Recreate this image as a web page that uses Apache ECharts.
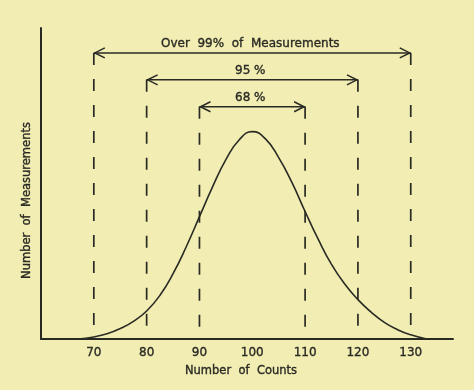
<!DOCTYPE html>
<html>
<head>
<meta charset="utf-8">
<script src="https://cdn.jsdelivr.net/npm/echarts@6/dist/echarts.min.js"></script>
<style>
html,body{margin:0;padding:0;background:#f1edb3;}
#chart{width:474px;height:390px;}
</style>
</head>
<body>
<div id="chart"></div>
<script>
const counts = [67, 70, 72.5, 75, 77.5, 80, 82.5, 85, 87.5, 90, 92.5, 95, 97.5, 100, 102.5, 105, 107.5, 110, 112.5, 115, 117.5, 120, 122.5, 125, 127.5, 130, 133];
const measurements = [0, 1, 2.5, 5, 8.5, 13.5, 21, 31.5, 44.5, 59, 73.5, 86.5, 96, 100, 96.5, 87.5, 75.5, 61.5, 48, 36, 26.5, 19, 13, 8, 4.5, 2, 0];
const tickLabels = [70, 80, 90, 100, 110, 120, 130];

// Range brackets
const bracketLow = [70, 80, 90];
const bracketHigh = [130, 120, 110];
const bracketLevel = [138, 125, 112];
const bracketText = ['Over  99%  of  Measurements', '95 %', '68 %'];

const ink = '#2a2a24';
const fontFamily = '"DejaVu Sans", "Noto Sans", sans-serif';

const chart = echarts.init(document.getElementById('chart'));

const curveData = counts.map((c, i) => [c, measurements[i]]);
const bracketData = bracketLow.map((lo, i) => [lo, bracketHigh[i], bracketLevel[i], i]);

const heavy = {textBorderColor: ink, textBorderWidth: 0.35};

chart.setOption({
  backgroundColor: '#f1edb3',
  animation: false,
  grid: {left: 41, right: 21, top: 28, bottom: 51},
  xAxis: {
    type: 'value', min: 60, max: 138, interval: 10,
    axisLine: {show: true, onZero: false, lineStyle: {color: ink, width: 2}},
    axisTick: {show: false},
    splitLine: {show: false},
    axisLabel: Object.assign({
      margin: 8, color: ink, fontSize: 12, fontFamily: fontFamily,
      formatter: v => tickLabels.indexOf(v) >= 0 ? String(v) : ''
    }, heavy),
    name: 'Number  of  Counts',
    nameLocation: 'middle', nameGap: 26,
    nameTextStyle: Object.assign({color: ink, fontSize: 11.5, fontFamily: fontFamily, padding: [0, 12, 0, 0]}, heavy)
  },
  yAxis: {
    type: 'value', min: 0, max: 150,
    axisLine: {show: true, lineStyle: {color: ink, width: 2}},
    axisTick: {show: false},
    axisLabel: {show: false},
    splitLine: {show: false},
    name: 'Number  of  Measurements',
    nameLocation: 'middle', nameGap: 8, nameRotate: 90,
    nameTextStyle: Object.assign({color: ink, fontSize: 11.5, fontFamily: fontFamily, padding: [0, 34, 0, 0]}, heavy)
  },
  series: [
    {
      type: 'line',
      data: curveData,
      smooth: 0.5,
      symbol: 'none',
      lineStyle: {color: ink, width: 1.6},
      z: 3
    },
    {
      type: 'custom',
      data: bracketData,
      encode: {x: [0, 1], y: 2},
      clip: false,
      renderItem: function (params, api) {
        const lo = api.coord([api.value(0), api.value(2)]);
        const hi = api.coord([api.value(1), api.value(2)]);
        const base = api.coord([api.value(0), 0]);
        const idx = api.value(3);
        const y = lo[1];
        const ls = {stroke: ink, lineWidth: 1.5, fill: null};
        const dash = {stroke: ink, lineWidth: 1.7, lineDash: [12, 14], fill: null};
        return {
          type: 'group',
          children: [
            {type: 'line', shape: {x1: lo[0], y1: y, x2: hi[0], y2: y}, style: ls},
            {type: 'polyline', shape: {points: [[lo[0] + 11, y - 5], [lo[0] + 1, y], [lo[0] + 11, y + 5]]}, style: ls},
            {type: 'polyline', shape: {points: [[hi[0] - 11, y - 5], [hi[0] - 1, y], [hi[0] - 11, y + 5]]}, style: ls},
            {type: 'line', shape: {x1: lo[0], y1: y, x2: lo[0], y2: base[1] - 12}, style: dash},
            {type: 'line', shape: {x1: hi[0], y1: y, x2: hi[0], y2: base[1] - 12}, style: dash},
            {type: 'text', style: {
              text: bracketText[idx], x: (lo[0] + hi[0]) / 2 - 2, y: y - 3,
              textAlign: 'center', textVerticalAlign: 'bottom',
              fill: ink, font: '12px ' + fontFamily,
              stroke: ink, lineWidth: 0.35
            }}
          ]
        };
      },
      z: 2
    }
  ]
});
</script>
</body>
</html>
